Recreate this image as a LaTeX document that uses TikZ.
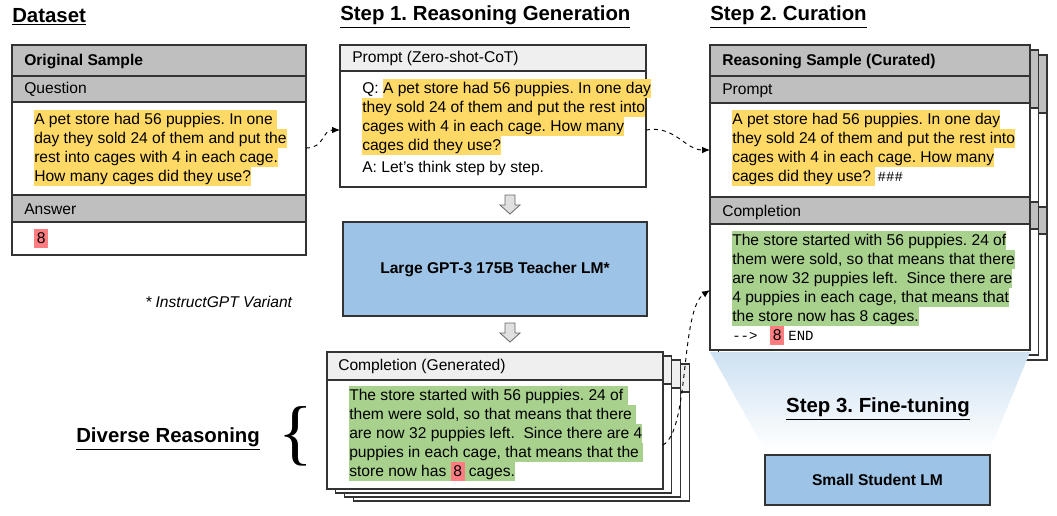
\documentclass[tikz,border=0pt]{standalone}
\usepackage{fontspec}
\setmainfont{Liberation Sans}
\newfontfamily\monof{Liberation Mono}
\usetikzlibrary{arrows.meta,calc,decorations.pathreplacing}
\definecolor{yl}{HTML}{FFD966}
\definecolor{gr}{HTML}{A9D18E}
\definecolor{rd}{HTML}{FF7C80}
\definecolor{hdr}{HTML}{BFBFBF}
\definecolor{lhdr}{HTML}{EFEFEF}
\definecolor{bl}{HTML}{9DC3E6}
\setlength\fboxsep{0pt}
\frenchspacing
\newcommand\hlstrut{\rule{0pt}{10.8pt}\rule[-3.45pt]{0pt}{0pt}}
\newcommand\hy[1]{\colorbox{yl}{\hlstrut #1}}
\newcommand\hg[1]{\colorbox{gr}{\hlstrut #1}}
\newcommand\hr[1]{\colorbox{rd}{\hlstrut\,#1\,}}
\newcommand\mtt{\monof\fontsize{10.5}{12}\selectfont}
\begin{document}
\begin{tikzpicture}[x=0.75pt,y=-0.75pt,
  txt/.style={anchor=north west,inner sep=0pt,align=left,font=\fontsize{11.7}{14.25}\selectfont},
  ttl/.style={anchor=west,inner sep=0pt,font=\fontsize{15.3}{18}\selectfont\bfseries},
  hlab/.style={anchor=west,inner sep=0pt,font=\fontsize{11.7}{14}\selectfont},
  box/.style={draw=black!80,line width=0.8pt},
  dconn/.style={draw,dashed,line width=0.7pt,-{Latex[length=6pt,width=5pt]}},
  garrow/.style={draw=black!60,fill=black!12,line width=0.6pt}]
\useasboundingbox (0,0) rectangle (1057,515);
% titles
\node[ttl] (t0) at (12,17) {\underline{Dataset}};
\node[ttl] (t1) at (340,17) {\underline{Step 1. Reasoning Generation}};
\node[ttl] (t2) at (710,17) {\underline{Step 2. Curation}};
% ---------- Dataset box
\draw[box,fill=hdr] (12,45) rectangle (306,76);
\draw[box,fill=hdr] (12,76) rectangle (306,102);
\draw[box,fill=white] (12,102) rectangle (306,195);
\draw[box,fill=hdr] (12,195) rectangle (306,222);
\draw[box,fill=white] (12,222) rectangle (306,255);
\coordinate (dsq) at (306,148);
\node[hlab,font=\fontsize{11.7}{14}\selectfont\bfseries] (os) at (24,61) {Original Sample};
\node[hlab] (q) at (24,89) {Question};
\node[hlab] (a) at (24,209) {Answer};
\node[txt] (qt) at (34,110) {\hy{A pet store had 56 puppies. In one }\\\hy{day they sold 24 of them and put the}\\\hy{rest into cages with 4 in each cage.}\\\hy{How many cages did they use?}};
\node[txt] (at) at (34,229) {\hr{8}};
% ---------- Prompt box
\draw[box,fill=lhdr] (340,45) rectangle (646,71);
\draw[box,fill=white] (340,71) rectangle (646,187);
\node[hlab] (ph) at (352,58) {Prompt (Zero-shot-CoT)};
\node[txt] (pq) at (362,79) {Q: \hy{A pet store had 56 puppies. In one day}\\\hy{they sold 24 of them and put the rest into}\\\hy{cages with 4 in each cage. How many}\\\hy{cages did they use?}\\[2pt]A: Let’s think step by step.};
\coordinate (pl) at (340,130);
\coordinate (pr) at (646,130);
% gray arrows
\draw[garrow] (505,195) -- (515,195) -- (515,205) -- (520,205) -- (510,214) -- (500,205) -- (505,205) -- cycle;
\draw[garrow] (505,323) -- (515,323) -- (515,333) -- (520,333) -- (510,342) -- (500,333) -- (505,333) -- cycle;
% teacher
\node[box,fill=bl,minimum width=304*0.75pt,minimum height=94*0.75pt,font=\fontsize{11.7}{14}\selectfont\bfseries] (teach) at (495,269) {Large GPT-3 175B Teacher LM*};
\node[anchor=west,inner sep=0pt,font=\fontsize{11.7}{14}\selectfont\itshape] (iv) at (145,302) {* InstructGPT Variant};
% ---------- Completion stack
\foreach \i in {3,2,1}{
  \draw[box,fill=white] ($(327,352)+(8.7*\i,4*\i)$) rectangle ($(663,489)+(8.7*\i,4*\i)$);
  \draw[box,fill=lhdr] ($(327,352)+(8.7*\i,4*\i)$) rectangle ($(663,380)+(8.7*\i,4*\i)$);
}
\draw[box,fill=white] (327,352) rectangle (663,489);
\draw[box,fill=lhdr] (327,352) rectangle (663,380);
\node[hlab] (ch) at (338,366) {Completion (Generated)};
\node[txt] (ct) at (349,386) {\hg{The store started with 56 puppies. 24 of }\\\hg{them were sold, so that means that there }\\\hg{are now 32 puppies left.\ \ Since there are 4}\\\hg{puppies in each cage, that means that the }\\\hg{store now has \hr{8} cages.}};
\coordinate (cr) at (663,445);
% diverse
\node[ttl] (dr) at (76,439) {\underline{Diverse Reasoning}};
\node[inner sep=0pt,font=\fontsize{54}{54}\selectfont\fontspec{Liberation Serif}] (br) at (296,436) {\{};
% ---------- Curated stack
\foreach \i in {2,1}{
  \begin{scope}[shift={(8.5*\i,5*\i)}]
  \draw[box,fill=white] (710,45) rectangle (1030,350);
  \draw[box,fill=hdr] (710,45) rectangle (1030,103);
  \draw[box,fill=hdr] (710,197) rectangle (1030,224);
  \end{scope}
}
\draw[box,fill=hdr] (710,45) rectangle (1030,76);
\draw[box,fill=hdr] (710,76) rectangle (1030,103);
\draw[box,fill=white] (710,103) rectangle (1030,197);
\draw[box,fill=hdr] (710,197) rectangle (1030,224);
\draw[box,fill=white] (710,224) rectangle (1030,350);
\node[hlab,font=\fontsize{11.7}{14}\selectfont\bfseries] (rs) at (722,61) {Reasoning Sample (Curated)};
\node[hlab] (rp) at (722,91) {Prompt};
\node[hlab] (rc) at (722,212) {Completion};
\node[txt] (rpt) at (732,110) {\hy{A pet store had 56 puppies. In one day}\\\hy{they sold 24 of them and put the rest into}\\\hy{cages with 4 in each cage. How many}\\\hy{cages did they use? }{\mtt\,\#\#\#}};
\node[txt] (rct) at (732,231) {\hg{The store started with 56 puppies. 24 of}\\\hg{them were sold, so that means that there}\\\hg{are now 32 puppies left.\ \ Since there are}\\\hg{4 puppies in each cage, that means that}\\\hg{the store now has 8 cages.}\\{\mtt-{}-> }\ \hr{8}\ {\mtt END}};
\coordinate (rl1) at (710,150);
\coordinate (rl2) at (710,290);
% ---------- Step 3
\shade[top color=bl!50,bottom color=white] (710,352) -- (1030,352) -- (990,450) -- (765,450) -- cycle;
\node[ttl,anchor=center] (t3) at (878,409) {\underline{Step 3. Fine-tuning}};
\node[box,fill=bl,minimum width=225*0.75pt,minimum height=50*0.75pt,font=\fontsize{11.7}{14}\selectfont\bfseries] (st) at (877.5,480) {Small Student LM};
% ---------- connectors
\draw[dconn] (dsq) .. controls (325,148) and (322,130) .. (pl);
\draw[dconn] (pr) .. controls (675,125) and (685,150) .. (rl1);
\draw[dconn] (cr) .. controls (690,430) and (680,310) .. (rl2);
\end{tikzpicture}
\end{document}
